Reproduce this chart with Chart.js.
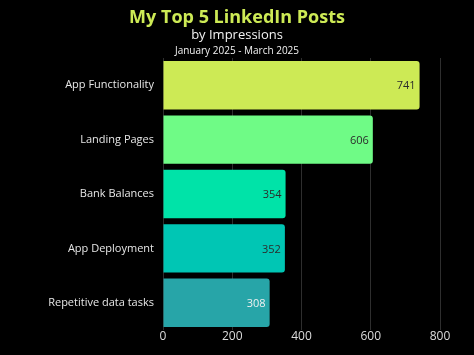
<!DOCTYPE html>
<html>
<head>
<meta charset="utf-8">
<script src="https://cdn.jsdelivr.net/npm/chart.js@4"></script>
<style>
  html, body { margin: 0; padding: 0; background: #000; }
  #wrap { width: 474px; height: 355px; }
</style>
</head>
<body>
<div id="wrap"><canvas id="posts-chart" width="474" height="355"></canvas></div>
<script>
// Données du graphique
const categories = ['App Functionality', 'Landing Pages', 'Bank Balances', 'App Deployment', 'Repetitive data tasks'];
const impressions = [741, 606, 354, 352, 308];
const barColors = ['#cdea55', '#6ffb86', '#00e3a8', '#00c6b4', '#27a5a8'];
const labelColors = ['#2b2b2b', '#2b2b2b', '#2b2b2b', '#2b2b2b', '#f0f0f0'];
const xTicks = [0, 200, 400, 600, 800];

const FONT = "'Open Sans', sans-serif";

// En-tête : titre, sous-titre, période
const headerPlugin = {
    id: 'header',
    afterDraw(chart) {
        const c = chart.ctx;
        const cx = chart.width / 2;
        c.save();
        c.textAlign = 'center';
        c.textBaseline = 'middle';
        c.fillStyle = '#cdea55';
        c.font = "bold 18px " + FONT;
        c.fillText('My Top 5 LinkedIn Posts', cx, 18);
        c.fillStyle = '#f2f2f2';
        c.font = "13px " + FONT;
        c.fillText('by Impressions', cx, 35);
        c.font = "10px " + FONT;
        c.fillText('January 2025 - March 2025', cx, 51);
        c.restore();
    }
};

// Valeurs affichées au bout des barres
const valueLabels = {
    id: 'valueLabels',
    afterDatasetsDraw(chart) {
        const c = chart.ctx;
        const meta = chart.getDatasetMeta(0);
        c.save();
        c.font = "11px " + FONT;
        c.textAlign = 'right';
        c.textBaseline = 'middle';
        meta.data.forEach((bar, i) => {
            c.fillStyle = labelColors[i];
            c.fillText(impressions[i], bar.x - 4, bar.y + 1);
        });
        c.restore();
    }
};

new Chart(document.getElementById('posts-chart'), {
    type: 'bar',
    data: {
        labels: categories,
        datasets: [{
            data: impressions,
            backgroundColor: barColors,
            borderRadius: { topRight: 3, bottomRight: 3 },
            borderSkipped: 'left',
            barPercentage: 0.89,
            categoryPercentage: 1
        }]
    },
    plugins: [headerPlugin, valueLabels],
    options: {
        indexAxis: 'y',
        responsive: false,
        animation: false,
        layout: { padding: { top: 58, right: 34, bottom: 0, left: 0 } },
        plugins: {
            legend: { display: false },
            tooltip: { enabled: false }
        },
        scales: {
            x: {
                min: 0,
                max: 800,
                afterFit: s => { s.height = 25; },
                afterBuildTicks: s => { s.ticks = xTicks.map(v => ({ value: v })); },
                grid: { color: '#2e2e2e', drawTicks: false, lineWidth: 1 },
                border: { display: false },
                ticks: { color: '#dcdcdc', font: { family: FONT, size: 12 }, padding: -1 }
            },
            y: {
                afterFit: s => { s.width = 163; },
                grid: { display: false },
                border: { display: false },
                ticks: { color: '#e6e6e6', font: { family: FONT, size: 11 }, padding: 1 }
            }
        }
    }
});
</script>
</body>
</html>
